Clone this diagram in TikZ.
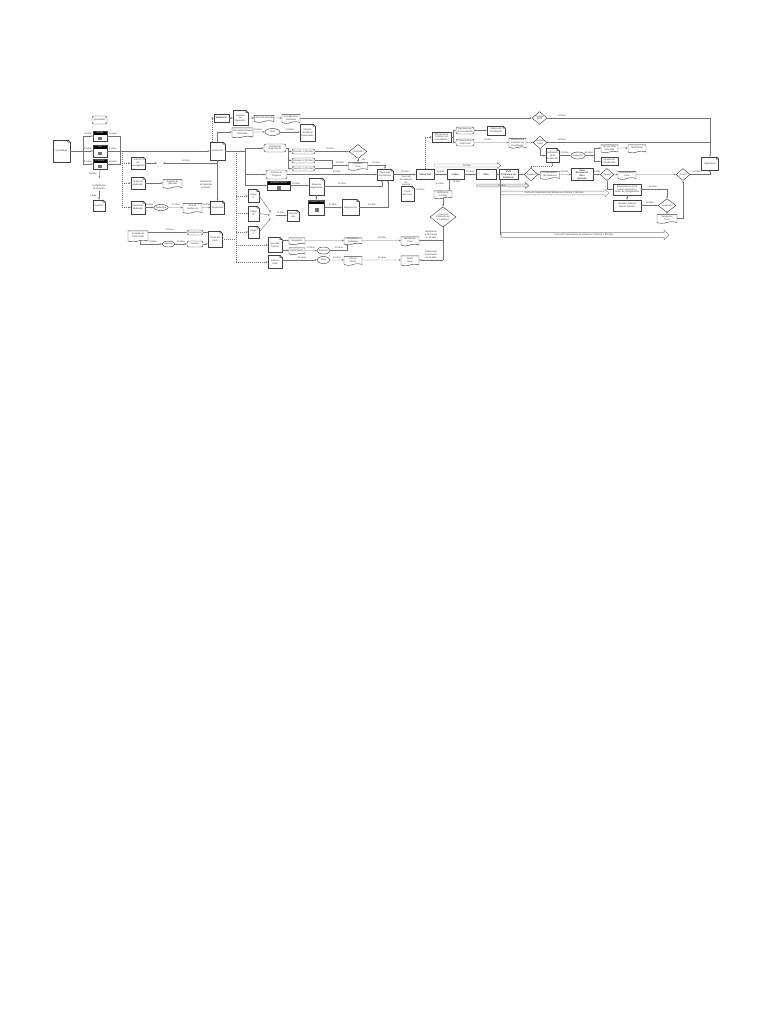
\documentclass[tikz,border=0pt]{standalone}
\usepackage{fontspec}
\setmainfont{Liberation Sans}
\usetikzlibrary{shapes.geometric,shapes.symbols,shapes.arrows,arrows.meta,calc}
\newcommand\tinyf{\fontsize{1.15pt}{1.35pt}\selectfont}
\newcommand\tinyb{\fontsize{1.15pt}{1.35pt}\selectfont\bfseries}
\tikzset{
 base/.style={draw=black!75, line width=0.22pt, fill=white, inner sep=0.2pt, font=\tinyf, align=center, text=black!80},
 bx/.style={base, rectangle},
 rbx/.style={base, rectangle, rounded corners=1pt},
 wv/.style={base, tape, tape bend top=none, tape bend height=0.8pt},
 el/.style={base, ellipse, inner sep=0pt},
 dm/.style={base, diamond, aspect=1, inner sep=0pt},
 lbl/.style={font=\tinyf, inner sep=0.1pt, align=center, text=black!80},
 cl/.style={draw=black!55, line width=0.2pt},
 cn/.style={cl, -{Stealth[length=1.1pt,width=0.9pt]}},
 cd/.style={cn, dash pattern=on 0.5pt off 0.5pt},
 cdl/.style={cl, dash pattern=on 0.5pt off 0.5pt},
 ba/.style={draw=black!50, line width=0.2pt, fill=white, single arrow, single arrow head extend=0.8pt, inner sep=0.2pt, font=\tinyf, text=black!80},
}
\newcommand\BoxN[6]{\node[#1, minimum width=#4*0.5pt, minimum height=#5*0.5pt] (#2) at (#3) {#6};}
\newcommand\DocN[5]{\node[bx, minimum width=#3*0.5pt, minimum height=#4*0.5pt] (#1) at (#2) {#5};
 \fill[white] ([xshift=-1.2pt,yshift=0.3pt]#1.north east) -- ([xshift=0.3pt,yshift=0.3pt]#1.north east) -- ([xshift=0.3pt,yshift=-1.2pt]#1.north east) -- cycle;
 \draw[line width=0.22pt, draw=black!75, line join=round] ([xshift=-1.2pt]#1.north east) -- ([yshift=-1.2pt]#1.north east) -- ([xshift=-1.2pt,yshift=-1.2pt]#1.north east) -- cycle;}
\newcommand\BlkN[5]{\node[bx, minimum width=#3*0.5pt, minimum height=#4*0.5pt, path picture={\fill[black] (path picture bounding box.north west) rectangle ([yshift=-2pt]path picture bounding box.north east); \fill[black!55] ([xshift=-1pt,yshift=-0.4pt]path picture bounding box.center) rectangle ([xshift=1pt,yshift=-2pt]path picture bounding box.center);}] (#1) at (#2) {};
 \node[lbl, text=white, anchor=north, inner sep=0.3pt] (#1t) at (#1.north) {#5};}
\newcommand\SymN[2]{\node[inner sep=0pt, minimum size=2.6pt] (#1) at (#2) {};
 \draw[line width=0.22pt, black!75] ([shift={(-1.1pt,-1.1pt)}]#1) -- ([shift={(1.1pt,1.1pt)}]#1);
 \draw[line width=0.22pt, black!75] ([shift={(-0.2pt,-1.4pt)}]#1) -- ([shift={(-1.1pt,-1.1pt)}]#1) -- ([shift={(-1.4pt,-0.2pt)}]#1);
 \draw[line width=0.22pt, black!75] ([shift={(0.2pt,1.2pt)}]#1) -- ([shift={(1.2pt,0.2pt)}]#1);}
\newcommand\LblN[3]{\node[lbl] (#1) at (#2) {#3};}
\begin{document}
\begin{tikzpicture}[x=0.5pt,y=-0.5pt]
\useasboundingbox (0,0) rectangle (768,1024);
\fill[white] (0,0) rectangle (768,1024);
% ---------- left ----------
\DocN{comp}{61.5,151}{17}{22}{Querellante}
\BoxN{rbx}{resp}{99.5,120}{15}{8}{Querellado}
\BlkN{b1}{100,136}{14}{10}{Correo}
\BlkN{b2}{100,151}{14}{12}{Fax}
\BlkN{b3}{100,164}{14}{10}{Persona}
\DocN{hear}{217.5,151}{15}{18}{Resolución}
\coordinate (jl) at (83,151);
\coordinate (jr) at (120,151);
\draw[cl] (comp.east) -- (jl);
\draw[cn] (jl) |- (b1.west);
\draw[cn] (jl) -- (b2.west);
\draw[cn] (jl) |- (b3.west);
\draw[cl] (b1.east) -| (jr);
\draw[cl] (b2.east) -- (jr);
\draw[cl] (b3.east) -| (jr);
\draw[cn] (jr) -- (hear.west);
\LblN{l1}{88,133.5}{10 días}
\LblN{l2}{88,148.5}{15 días}
\LblN{l3}{88,161.5}{45 días}
\LblN{l4}{113,133.5}{15 días}
\LblN{l5}{113,148.5}{30 días}
\LblN{l6}{113,161.5}{35 días}
\SymN{sy1}{99,181}
\draw[cn] (b3.south) -- (sy1);
\LblN{l7}{93,174}{Recibo}
\node[lbl] (t0) at (99,187.5) {Contestación\\de Querella};
\DocN{dec}{99,205.5}{12}{11}{Decisión}
\draw[cn] (t0.south) -- (dec.north);
\LblN{l8}{93,195.5}{Y días}
% dotted column x=122
\coordinate (dv1) at (122,151);
\coordinate (dv2) at (122,207.5);
\draw[cdl] (dv1) -- (dv2);
\DocN{d1}{138,163}{14}{12}{Informe\\de\\Investigación}
\DocN{d2}{138,183}{14}{12}{Orden de\\Mediación}
\DocN{d3}{138,207.5}{14}{13}{Informe de\\Mediación}
\draw[cd] (dv1 |- d1.west) -- (d1.west);
\draw[cd] (dv1 |- d2.west) -- (d2.west);
\draw[cd] (dv2) -- (d3.west);
\SymN{sy2}{160,163}
\draw[cn] (d1.east) -- (sy2);
\draw[cn] (hear.south |- sy2) -- (sy2);
\LblN{l9}{186,160.5}{30 días}
\DocN{d4}{217.5,207.5}{14}{13}{Resolución}
\draw[cn] (hear.south) -- (d4.north);
\BoxN{wv}{w1}{172.5,183}{19}{9}{Registro de\\Querella}
\draw[cn] (d2.east) -- (w1.west);
\node[lbl] (t1) at (206,185) {Notificación\\de Querella\\y Citación};
\BoxN{el}{el1}{161,207.5}{14}{6}{Audiencia}
\draw[cn] (d3.east) -- (el1.west);
\LblN{l10}{149.5,205}{10 días}
\BoxN{wv}{w2}{192.5,207.5}{19}{10}{Acta de\\Audiencia}
\draw[cn] (el1) -- (w2);
\LblN{l11}{176,205}{10 días}
\draw[cn] (w2) -- (d4);
\LblN{l12}{206.5,204.5}{30 días}
% bottom-left group
\BoxN{wv}{tr}{138,235.5}{20}{11}{Acuerdo de\\Transacción}
\BoxN{rbx}{rb1}{195,232.5}{16}{5}{Cumplimiento}
\BoxN{el}{el2}{168.5,244}{13}{6}{Revisión}
\BoxN{rbx}{rb2}{195,244}{16}{6}{Archivo}
\DocN{d5}{215,239}{14}{16}{Cierre del\\Caso}
\draw[cn] (tr.east |- rb1) -- (rb1.west);
\LblN{l13}{170,230}{10 días}
\coordinate (tq) at ([xshift=1pt]tr.south);
\draw[cn] (tq) |- (el2.west);
\LblN{l14}{153,241.5}{10 días}
\draw[cn] (el2) -- (rb2);
\LblN{l15}{181,241.5}{10 días}
\draw[cn] (rb1.east) -- (d5.west |- rb1.east);
\draw[cn] (rb2.east) -- (d5.west |- rb2.east);
% dotted column x=236 and solid x=245
\coordinate (dA) at (236,151);
\coordinate (dB) at (236,262);
\draw[cdl] (dA) -- (dB);
\draw[cdl] (d5.east) -- (dA |- d5.east);
\coordinate (sv0) at (245,151);
\coordinate (sv1) at (245,148);
\coordinate (sv2) at (245,185.5);
\draw[cl] (hear.east) -- (sv0);
\draw[cl] (sv1) -- (sv2);
\BoxN{rbx}{rr1}{275,148}{22}{8}{Solicitud de\\Negociación}
\BoxN{rbx}{rr2}{276.5,174.5}{21}{9}{Informe de\\Progreso}
\BlkN{blk2}{278.5,185.5}{23}{9}{Acuerdo Parcial}
\draw[cn] (sv1) -- (rr1.west);
\draw[cn] (sv1 |- rr2) -- (rr2.west);
\draw[cn] (sv2) -- (blk2.west);
\DocN{e1}{253.5,196}{11}{13}{Pliego\\A}
\DocN{e2}{253.5,213.5}{11}{15}{Pliego\\B}
\DocN{e3}{253.5,232}{11}{12}{Pliego\\C}
\draw[cd] (dA |- e1.west) -- (e1.west);
\draw[cd] (dA |- e2.west) -- (e2.west);
\draw[cd] (dA |- e3.west) -- (e3.west);
\SymN{sy3}{273,215.5}
\draw[cn] (e1.east) -- (sy3);
\draw[cn] (e2.east) -- (sy3);
\draw[cn] (e3.east) -- (sy3);
\DocN{conc}{293,215.5}{12}{11}{Concilia-\\ción}
\draw[cn] (sy3) -- (conc);
\LblN{l16}{280.5,213}{10 días}
\DocN{f1}{275,245}{14}{15}{Querella\\Formal}
\DocN{f2}{275,262}{14}{13}{Informe\\Final}
\draw[cd] (dA |- f1.west) -- (f1.west);
\draw[cd] (dB) -- (f2.west);
\BoxN{wv}{wv3}{297,240.5}{16}{7}{Respuesta}
\BoxN{wv}{wv4}{297,250.5}{16}{7}{Contestación}
\draw[cn] (f1.east |- wv3) -- (wv3.west);
\draw[cn] (f1.east |- wv4) -- (wv4.west);
\BoxN{el}{el3}{323.5,250.5}{13}{7}{Revisión}
\draw[cn] (wv4) -- (el3);
\LblN{l17}{311,248}{10 días}
\BoxN{wv}{wv5}{353,240.5}{18}{7}{Resolución\\Preliminar}
\draw[cn] (wv3) -- (wv5);
\draw[cn] (el3.east) -| ([xshift=-3pt]wv5.south);
\LblN{l18}{339,248}{30 días}
\BoxN{wv}{wv6}{410,240.5}{18}{9}{Resolución\\Final}
\draw[cn] (wv5) -- (wv6);
\LblN{l19}{382,238}{30 días}
\BoxN{el}{el4}{323.5,260}{13}{7}{Vista}
\draw[cn] (f2.east |- el4) -- (el4);
\LblN{l20}{302,257.5}{10 días}
\BoxN{wv}{bx8}{353,260}{18}{9}{Informe\\Oficial}
\draw[cn] (el4) -- (bx8);
\LblN{l21}{337,257.5}{10 días}
\BoxN{wv}{wv7}{410,260}{18}{10}{Orden\\Final}
\draw[cn] (bx8) -- (wv7);
\LblN{l22}{382,257.5}{60 días}
\node[lbl] (t2) at (431,234.5) {Notificación\\a las Partes\\en 10 días};
\node[lbl] (t3) at (431,254.5) {Notificación\\a las Partes\\en 10 días};
% ---------- top row ----------
\BoxN{bx}{med}{221.5,118}{15}{8}{\tinyb Mediación}
\draw[cd] ([xshift=1pt]hear.north west) |- (med.west);
\DocN{m2}{240.5,118}{15}{15}{Acuerdo\\de\\Mediación}
\draw[cn] (med) -- (m2);
\BoxN{wv}{m3}{264,118}{18}{7}{Firma del Acuerdo}
\draw[cn] (m2) -- (m3);
\BoxN{wv}{m4}{291,118}{18}{9}{Cumplimiento\\Verificado}
\draw[cn] (m3) -- (m4);
\BoxN{dm}{d1a}{539.5,118}{15}{13}{Cumple\\(S/N)}
\draw[cn] (m4.east) -- (d1a.west);
\DocN{fin}{710,163.5}{17}{13}{Expediente}
\coordinate (tr1) at (710,118);
\draw[cl] (d1a.east) -- (tr1);
\draw[cn] (tr1) -- (fin.north);
\LblN{l23}{562,115.5}{30 días}
\BoxN{wv}{vis0}{242.5,132}{19}{10}{Vista Administrativa\\Señalada}
\draw[cn] (hear.north) |- (vis0.west);
\BoxN{el}{el5}{272.5,132}{15}{7}{Vista}
\draw[cn] (vis0) -- (el5);
\LblN{l24}{258,129.5}{10 días}
\DocN{d6}{307.5,132.5}{15}{17}{Informe\\del Oficial\\Examinador}
\draw[cn] (el5) -- (d6.west |- el5);
\LblN{l25}{290,129.5}{10 días}
% negotiation
\BoxN{rbx}{s1}{303.5,151.5}{23}{5}{Reunión 1 (30 días)}
\BoxN{rbx}{s2}{303.5,160.5}{23}{5}{Reunión 2 (30 días)}
\BoxN{rbx}{s3}{303.5,168.5}{23}{5}{Reunión 3 (30 días)}
\coordinate (sj) at (288.5,148);
\draw[cl] (rr1.east) -- (sj) -- (sj |- s3);
\draw[cn] (sj |- s1) -- (s1.west);
\draw[cn] (sj |- s2) -- (s2.west);
\draw[cn] (sj |- s3) -- (s3.west);
\BoxN{dm}{dia1}{358,151.5}{18}{14}{¿Acuerdo?}
\draw[cn] (s1) -- (dia1);
\LblN{l26}{330,149}{30 días}
\BoxN{wv}{rw}{358,165.5}{19}{8}{Reunión\\Final}
\coordinate (sm) at (332,165.5);
\draw[cl] (s2.east) -| (sm);
\draw[cl] (s3.east) -| (sm);
\draw[cn] (sm) -- (rw.west);
\LblN{l27}{340,163}{30 días}
\draw[cn] (dia1.south) -- (rw.north);
\LblN{l28}{364,159.5}{No}
\DocN{ic}{385,174.5}{16}{11}{Informe de\\Conciliación}
\draw[cn] (rw.east) -| (ic.north);
\LblN{l29}{376,162.5}{30 días}
\draw[cn] (rr2.east) -- (ic.west |- rr2.east);
\LblN{l30}{337,172}{10 días}
\DocN{etapa}{316.5,186.5}{15}{17}{Etapa de\\Negociación}
\draw[cn] (blk2.east) -- (etapa.west |- blk2.east);
\LblN{l31}{296,183.5}{10 días}
\draw[cn] (etapa.east) -| ([xshift=-1.5pt]ic.south);
\LblN{l32}{342,184}{10 días}
\BlkN{blk3}{316.5,207.5}{16}{15}{Acuerdo Final}
\draw[cn] (etapa.south) -- (blk3.north);
\DocN{neg}{350.5,207.5}{17}{16}{Negociación}
\draw[cn] (blk3) -- (neg);
\LblN{l33}{333,205}{10 días}
\draw[cn] (neg.east) -| ([xshift=1.5pt]ic.south);
\LblN{l34}{372,205}{30 días}
% ---------- middle ----------
\BoxN{bx}{vf}{425,174.5}{18}{10}{\tinyb Vista Final}
\draw[cn] (ic) -- (vf);
\LblN{l35}{405,172}{30 días}
\node[lbl] (t4) at (406,181) {Cierre de\\Conciliación\\sin\\acuerdo};
\BoxN{bx}{ord}{455.5,174.5}{17}{10}{\tinyb Orden}
\draw[cn] (vf) -- (ord);
\LblN{l36}{440.5,172}{10 días}
\BoxN{bx}{vis}{486,174.5}{20}{10}{\tinyb Vista}
\draw[cn] (ord) -- (vis);
\LblN{l37}{470,172}{10 días}
\BoxN{bx}{pr}{508.5,174.5}{19}{10}{\tinyb Vista\\\tinyb Preliminar de\\\tinyb Evidencia}
\draw[cn] (vis) -- (pr);
\DocN{dc7}{407.5,193.5}{13}{15}{Cierre\\del Caso}
\node[lbl] (t5) at (420.5,190) {Archivo};
\BoxN{wv}{wv8}{443,194}{18}{8}{Notificación\\a Partes}
\coordinate (oq) at ([xshift=-3pt]ord.south);
\draw[cn] (oq) -- (oq |- wv8.north);
\LblN{l38}{440,184}{10 días}
\LblN{l39}{456.5,181.5}{10 días}
\BoxN{dm}{bd}{443,217}{26}{20}{¿Presentó\\Evidencia en\\el Término?}
\draw[cn] (wv8) -- (bd);
\coordinate (bv) at (443,260);
\draw[cl] (bd.south) -- (bv);
\draw[cn] (bd.south |- wv6) -- (wv6.east);
\draw[cn] (bv) -- (wv7.east);
\BoxN{bx}{ics}{441.5,137}{19}{10}{Informe de la\\Comisión de\\Conciliación}
\draw[cd] (vf.north) |- (ics.west);
\BoxN{rbx}{ra}{465,130.5}{18}{7}{Resultado de\\la Conciliación}
\BoxN{rbx}{rb}{465,142.5}{18}{7}{Informe de la\\Vista Final}
\coordinate (ij) at (453.5,137);
\draw[cl] (ics.east) -- (ij);
\draw[cn] (ij) |- (ra.west);
\draw[cn] (ij) |- (rb.west);
\DocN{inf}{496,130.5}{18}{9}{Informe de\\Conciliación}
\draw[cn] (ra) -- (inf);
\BoxN{wv}{ic2}{517.5,142.5}{17}{10}{Informe de la\\Comisión de\\Conciliación}
\draw[cn] (rb) -- (ic2);
\LblN{l40}{488,140}{10 días}
\BoxN{dm}{d2a}{540,142.5}{14}{11}{Cumple\\(S/N)}
\draw[cn] (ic2) -- (d2a);
\coordinate (tr2) at (710,142.5);
\draw[cl] (d2a.east) -- (tr2);
\LblN{l41}{562,140}{60 días}
\DocN{n1}{552.5,155.5}{13}{14}{Notificación\\de la\\Resolución}
\draw[cn] (d2a.south) |- (n1.west);
\BoxN{el}{el6}{578,155.5}{14}{7}{Apelación}
\draw[cn] (n1) -- (el6);
\LblN{l42}{565,153}{30 días}
\coordinate (nj) at (594,155.5);
\draw[cl] (el6) -- (nj);
\LblN{l43}{589,153}{60 días}
\BoxN{wv}{nA}{609.5,148}{17}{8}{Nueva Vista\\Señalada}
\BoxN{bx}{nB}{609.5,161.5}{17}{8}{Resolución\\Confirmada}
\draw[cn] (nj) |- (nA.west);
\draw[cn] (nj) |- (nB.west);
\BoxN{wv}{nC}{637,148}{18}{8}{Notificación}
\draw[cn] (nA) -- (nC);
% ---------- lower right row ----------
\BoxN{dm}{pdm}{531,174.5}{14}{12}{¿Cumple?}
\draw[cn] (pr) -- (pdm);
\BoxN{wv}{wv9}{550,174.5}{19}{8}{Presentación\\de Evidencia}
\draw[cn] (pdm) -- (wv9);
\coordinate (pq) at (552.5,166);
\draw[cdl] (pdm.north) |- (pq);
\draw[cd] (pq) -- (n1.south);
\BoxN{bx}{vr}{582,174.5}{22}{12}{\tinyb Vista\\\tinyb Resolución\\\tinyb de la\\\tinyb Querella}
\draw[cn] (wv9) -- (vr);
\LblN{l44}{564.5,172}{30 días}
\BoxN{dm}{dm3}{607,174.5}{14}{12}{¿Apela?}
\draw[cn] (vr) -- (dm3);
\LblN{l45}{596.5,172}{10 días}
\BoxN{wv}{wv10}{627,174.5}{18}{8}{Determinación\\Final}
\draw[cn] (dm3) -- (wv10);
\BoxN{dm}{dm4}{683,174.5}{14}{12}{¿Firme?}
\draw[cn] (wv10) -- (dm4);
\coordinate (fj) at (710,174.5);
\draw[cl] (dm4.east) -- (fj);
\draw[cn] (fj) -- (fin.south);
\LblN{l46}{697,171.5}{45 días}
\BoxN{bx}{r1}{627,189.5}{28}{11}{Determinación Final\\sobre la Querella y\\Orden de Cumplimiento}
\draw[cn] (dm3.south) |- (r1.west);
\BoxN{bx}{r2}{627,205.5}{28}{11}{Revisión Judicial\\ante el Tribunal}
\draw[cn] (r1) -- (r2);
\BoxN{dm}{dm5}{667,205.5}{18}{13}{¿Revisión?}
\draw[cn] (r1.east) -| (dm5.north);
\LblN{l47}{653,187}{90 días}
\draw[cn] (r2.east) -- (dm5.west);
\LblN{l48}{650,203}{30 días}
\BoxN{wv}{r3}{667,218}{20}{9}{Resolución\\Final}
\draw[cn] (dm5) -- (r3);
\draw[cn] (r3.east) -| (dm4.south);
% ---------- block arrows ----------
\node[ba, minimum height=33pt, minimum width=3pt] (ba1) at (467,165.5) {30 días};
\node[ba, fill=black!12, minimum height=26pt, minimum width=3pt] (ba2) at (502,185.5) {30 días};
\node[ba, minimum height=54pt, minimum width=4pt] (ba3) at (554,193) {Fecha de Presentación de Evidencia o Informe ≤ 180 días};
\node[ba, minimum height=84pt, minimum width=5pt] (ba4) at (584,235) {Fecha de Presentación de Evidencia o Informe ≤ 180 días};
\coordinate (pv) at ([xshift=0.5pt]pr.south west);
\draw[cl] (pv) -- (pv |- ba4.west);
\end{tikzpicture}
\end{document}
